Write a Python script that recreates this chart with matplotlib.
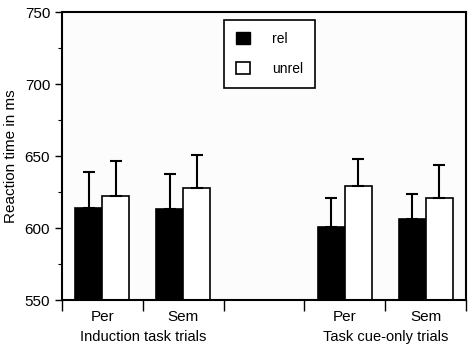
import numpy as np
import matplotlib.pyplot as plt
from matplotlib.patches import Patch

# values
conditions = ["Per", "Sem", "Per", "Sem"]
slots = [0, 1, 3, 4]
groups = ["Induction task trials", "Task cue-only trials"]
rel = [614, 613, 601, 606]
rel_err = [25, 24.5, 20, 17.5]
unrel = [622, 628, 629.5, 620.5]
unrel_err = [24.5, 23, 18.5, 23.5]

plt.rcParams["font.family"] = ["Liberation Sans", "DejaVu Sans"]

fig = plt.figure(figsize=(4.74, 3.55), dpi=100)
ax = fig.add_axes([62 / 474, 55 / 355, 404 / 474, 288 / 355])
ax.set_facecolor("#fcfcfc")

x = np.array(slots) + 0.5
w = 1 / 3
err_kw = dict(ecolor="black", elinewidth=1.5, capsize=4.5, capthick=1.5)
ax.bar(x - w / 2, rel, w, color="black", edgecolor="black", linewidth=1.2,
       yerr=[np.zeros(4), rel_err], error_kw=err_kw)
ax.bar(x + w / 2, unrel, w, color="white", edgecolor="black", linewidth=1.2,
       yerr=[np.zeros(4), unrel_err], error_kw=err_kw)

ax.set_ylim(550, 750)
ax.set_xlim(0, 5)
ax.set_yticks([550, 600, 650, 700, 750])
ax.set_yticks([575, 625, 675, 725], minor=True)
ax.tick_params(axis="y", which="major", length=5, width=1, labelsize=11, direction="out")
ax.tick_params(axis="y", which="minor", length=3, width=0.8, direction="out")
ax.set_xticks(range(6))
ax.set_xticklabels([])
ax.tick_params(axis="x", length=8, width=1, direction="out")
for s in ax.spines.values():
    s.set_linewidth(1.5)

for xi, lab in zip(x, conditions):
    ax.text(xi, -0.035, lab, transform=ax.get_xaxis_transform(), ha="center", va="top", fontsize=11)
for xi, lab in zip([1.0, 4.0], groups):
    ax.text(xi, -0.105, lab, transform=ax.get_xaxis_transform(), ha="center", va="top", fontsize=10.5)

ax.set_ylabel("Reaction time in ms", fontsize=11, labelpad=5)

handles = [Patch(facecolor="black", edgecolor="black"), Patch(facecolor="white", edgecolor="black", linewidth=1.2)]
leg = ax.legend(handles, ["rel", "unrel"], loc="upper center", bbox_to_anchor=(0.514, 0.972),
                frameon=True, fancybox=False, edgecolor="black", fontsize=10,
                handlelength=1.0, handleheight=1.0, labelspacing=1.15, borderpad=0.85,
                handletextpad=1.6, borderaxespad=0)
leg.get_frame().set_linewidth(1.2)
leg.get_frame().set_facecolor("white")
leg.get_frame().set_alpha(1)

fig.savefig("out.png", dpi=100)
